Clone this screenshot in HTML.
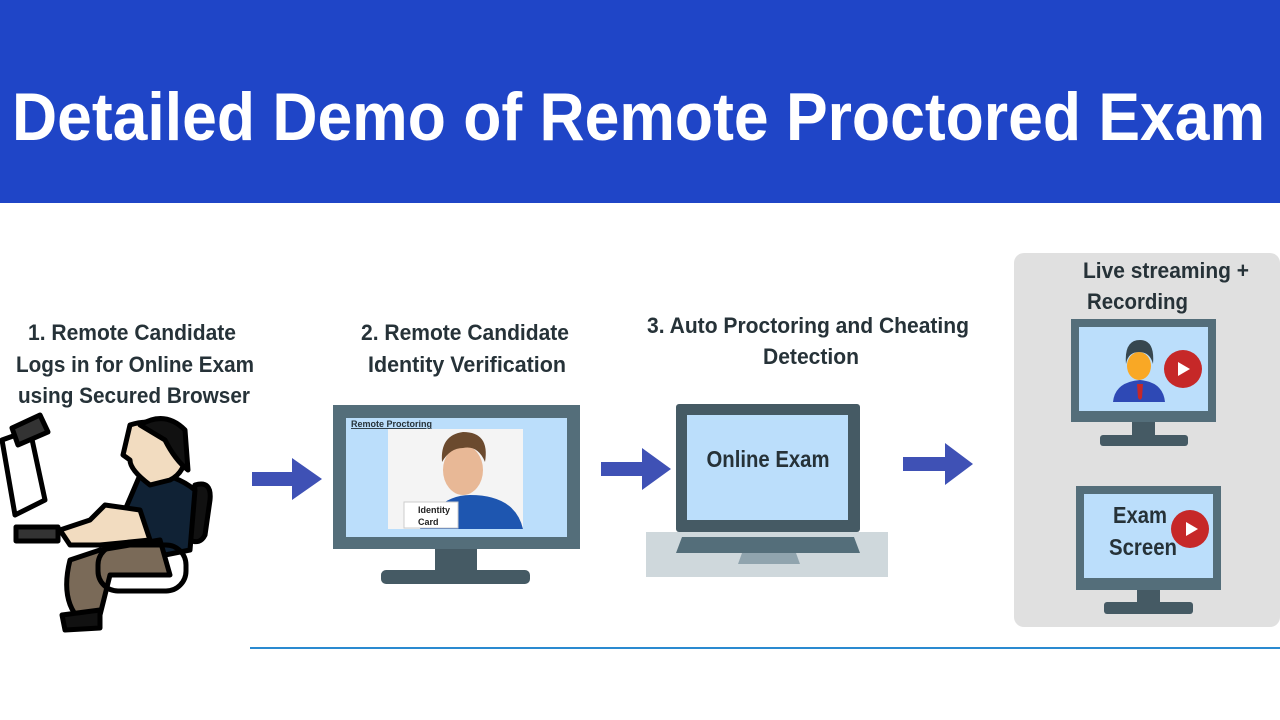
<!DOCTYPE html>
<html><head><meta charset="utf-8"><style>
html,body{margin:0;padding:0;background:#fff;width:1280px;height:720px;overflow:hidden}
svg{display:block}
text{font-family:"Liberation Sans Narrow","Liberation Sans",sans-serif;font-weight:bold}
</style></head><body>
<svg width="1280" height="720" viewBox="0 0 1280 720" xmlns="http://www.w3.org/2000/svg">
<rect x="0" y="0" width="1280" height="203" fill="#1f45c7"/>
<text x="12" y="140" font-size="68" fill="#fff" textLength="1253" lengthAdjust="spacingAndGlyphs">Detailed Demo of Remote Proctored Exam</text>

<!-- step labels -->
<g fill="#263238" font-size="22">
<text x="132" y="340" text-anchor="middle" textLength="208" lengthAdjust="spacingAndGlyphs">1. Remote Candidate</text>
<text x="135" y="372" text-anchor="middle" textLength="238" lengthAdjust="spacingAndGlyphs">Logs in for Online Exam</text>
<text x="134" y="403" text-anchor="middle" textLength="232" lengthAdjust="spacingAndGlyphs">using Secured Browser</text>
<text x="465" y="340" text-anchor="middle" textLength="208" lengthAdjust="spacingAndGlyphs">2. Remote Candidate</text>
<text x="467" y="372" text-anchor="middle" textLength="198" lengthAdjust="spacingAndGlyphs">Identity Verification</text>
<text x="808" y="333" text-anchor="middle" textLength="322" lengthAdjust="spacingAndGlyphs">3. Auto Proctoring and Cheating</text>
<text x="811" y="364" text-anchor="middle" textLength="96" lengthAdjust="spacingAndGlyphs">Detection</text>
</g>

<!-- person -->
<g stroke="#000" stroke-width="5" stroke-linejoin="round">
<path d="M2 440 L30 430 L45 500 L15 515 Z" fill="#fff"/>
<rect x="16" y="527" width="42" height="14" fill="#333"/>
<path d="M12 428 L40 415 L48 432 L18 445 Z" fill="#333"/>
<path d="M195 485 Q212 480 210 500 L205 535 Q200 545 190 540 Z" fill="#111"/>
<path d="M125 510 L140 475 Q170 470 195 490 L190 550 L140 560 Z" fill="#102235"/>
<path d="M130 425 Q160 415 185 440 Q190 470 170 480 L150 485 Q130 470 130 460 L123 455 Z" fill="#f2dcc0"/>
<path d="M140 425 Q165 410 185 430 L188 470 Q175 460 165 440 Z" fill="#111"/>
<path d="M60 530 L90 520 L105 505 L140 510 L150 540 L100 545 L70 545 Z" fill="#f2dcc0"/>
<path d="M70 560 Q60 600 80 620 L100 615 L110 575 L170 575 L160 540 L100 550 Z" fill="#7a6a58"/>
<path d="M62 615 L100 610 L100 628 L65 630 Z" fill="#111"/>
<rect x="98" y="545" width="88" height="46" rx="20" fill="none"/>
</g>

<!-- arrows -->
<g fill="#3f51b5">
<path d="M252 472 H292 V458 L322 479 L292 500 V486 H252 Z"/>
<path d="M601 462 H642 V448 L671 469 L642 490 V476 H601 Z"/>
<path d="M903 457 H945 V443 L973 464 L945 485 V471 H903 Z"/>
</g>

<!-- monitor 2 -->
<rect x="333" y="405" width="247" height="144" fill="#546e7a"/>
<rect x="346" y="418" width="221" height="119" fill="#bbdefb"/>
<rect x="388" y="429" width="135" height="100" fill="#f4f4f4"/>
<path d="M420 529 Q440 495 470 495 Q515 495 523 529 Z" fill="#1e56b0"/>
<ellipse cx="463" cy="470" rx="20" ry="25" fill="#e8b896"/>
<path d="M442 462 Q440 435 463 432 Q490 432 485 462 Q478 445 463 448 Q450 448 442 462Z" fill="#6b4a2e"/>
<rect x="404" y="502" width="54" height="26" fill="#fff" stroke="#ccc"/>
<text x="418" y="513" font-size="9" fill="#222">Identity</text>
<text x="418" y="525" font-size="9" fill="#222">Card</text>
<text x="351" y="427" font-size="9" fill="#263238" text-decoration="underline">Remote Proctoring</text>
<rect x="435" y="549" width="42" height="22" fill="#455a64"/>
<rect x="381" y="570" width="149" height="14" rx="5" fill="#455a64"/>

<!-- laptop -->
<rect x="676" y="404" width="184" height="128" rx="3" fill="#455a64"/>
<rect x="687" y="415" width="161" height="105" fill="#bbdefb"/>
<text x="768" y="467" font-size="23" fill="#263238" text-anchor="middle" textLength="123" lengthAdjust="spacingAndGlyphs">Online Exam</text>
<rect x="646" y="532" width="242" height="45" fill="#cfd8dc"/>
<path d="M682 537 H854 L860 553 H676 Z" fill="#546e7a"/>
<path d="M742 553 H796 L800 564 H738 Z" fill="#90a4ae"/>

<!-- right panel -->
<rect x="1014" y="253" width="266" height="374" rx="10" fill="#e0e0e0"/>
<g fill="#263238" font-size="22">
<text x="1083" y="278" textLength="166" lengthAdjust="spacingAndGlyphs">Live streaming +</text>
<text x="1087" y="309" textLength="101" lengthAdjust="spacingAndGlyphs">Recording</text>
</g>
<rect x="1071" y="319" width="145" height="103" fill="#546e7a"/>
<rect x="1079" y="327" width="129" height="84" fill="#bbdefb"/>
<rect x="1132" y="422" width="23" height="14" fill="#455a64"/>
<rect x="1100" y="435" width="88" height="11" rx="3" fill="#455a64"/>
<path d="M1113 402 Q1115 382 1140 380 Q1163 382 1165 402 Z" fill="#2e49b5"/>
<path d="M1137 384 L1143 384 L1142 398 L1140 400 L1138 398 Z" fill="#c62828"/>
<ellipse cx="1139" cy="366" rx="12" ry="14" fill="#f9a825"/>
<path d="M1126 364 Q1124 340 1140 340 Q1155 340 1153 364 Q1150 352 1139 352 Q1128 352 1126 364Z" fill="#37474f"/>
<circle cx="1183" cy="369" r="19" fill="#c62828"/>
<path d="M1178 362 L1190 369 L1178 376 Z" fill="#fff"/>

<rect x="1076" y="486" width="145" height="104" fill="#546e7a"/>
<rect x="1084" y="494" width="129" height="84" fill="#bbdefb"/>
<rect x="1137" y="590" width="23" height="13" fill="#455a64"/>
<rect x="1104" y="602" width="89" height="12" rx="3" fill="#455a64"/>
<circle cx="1190" cy="529" r="19" fill="#c62828"/>
<path d="M1186 522 L1198 529 L1186 536 Z" fill="#fff"/>
<g fill="#263238" font-size="23">
<text x="1140" y="523" text-anchor="middle" textLength="54" lengthAdjust="spacingAndGlyphs">Exam</text>
<text x="1143" y="555" text-anchor="middle" textLength="68" lengthAdjust="spacingAndGlyphs">Screen</text>
</g>

<rect x="250" y="647" width="1030" height="2" fill="#2a8ad0"/>
</svg>
</body></html>
